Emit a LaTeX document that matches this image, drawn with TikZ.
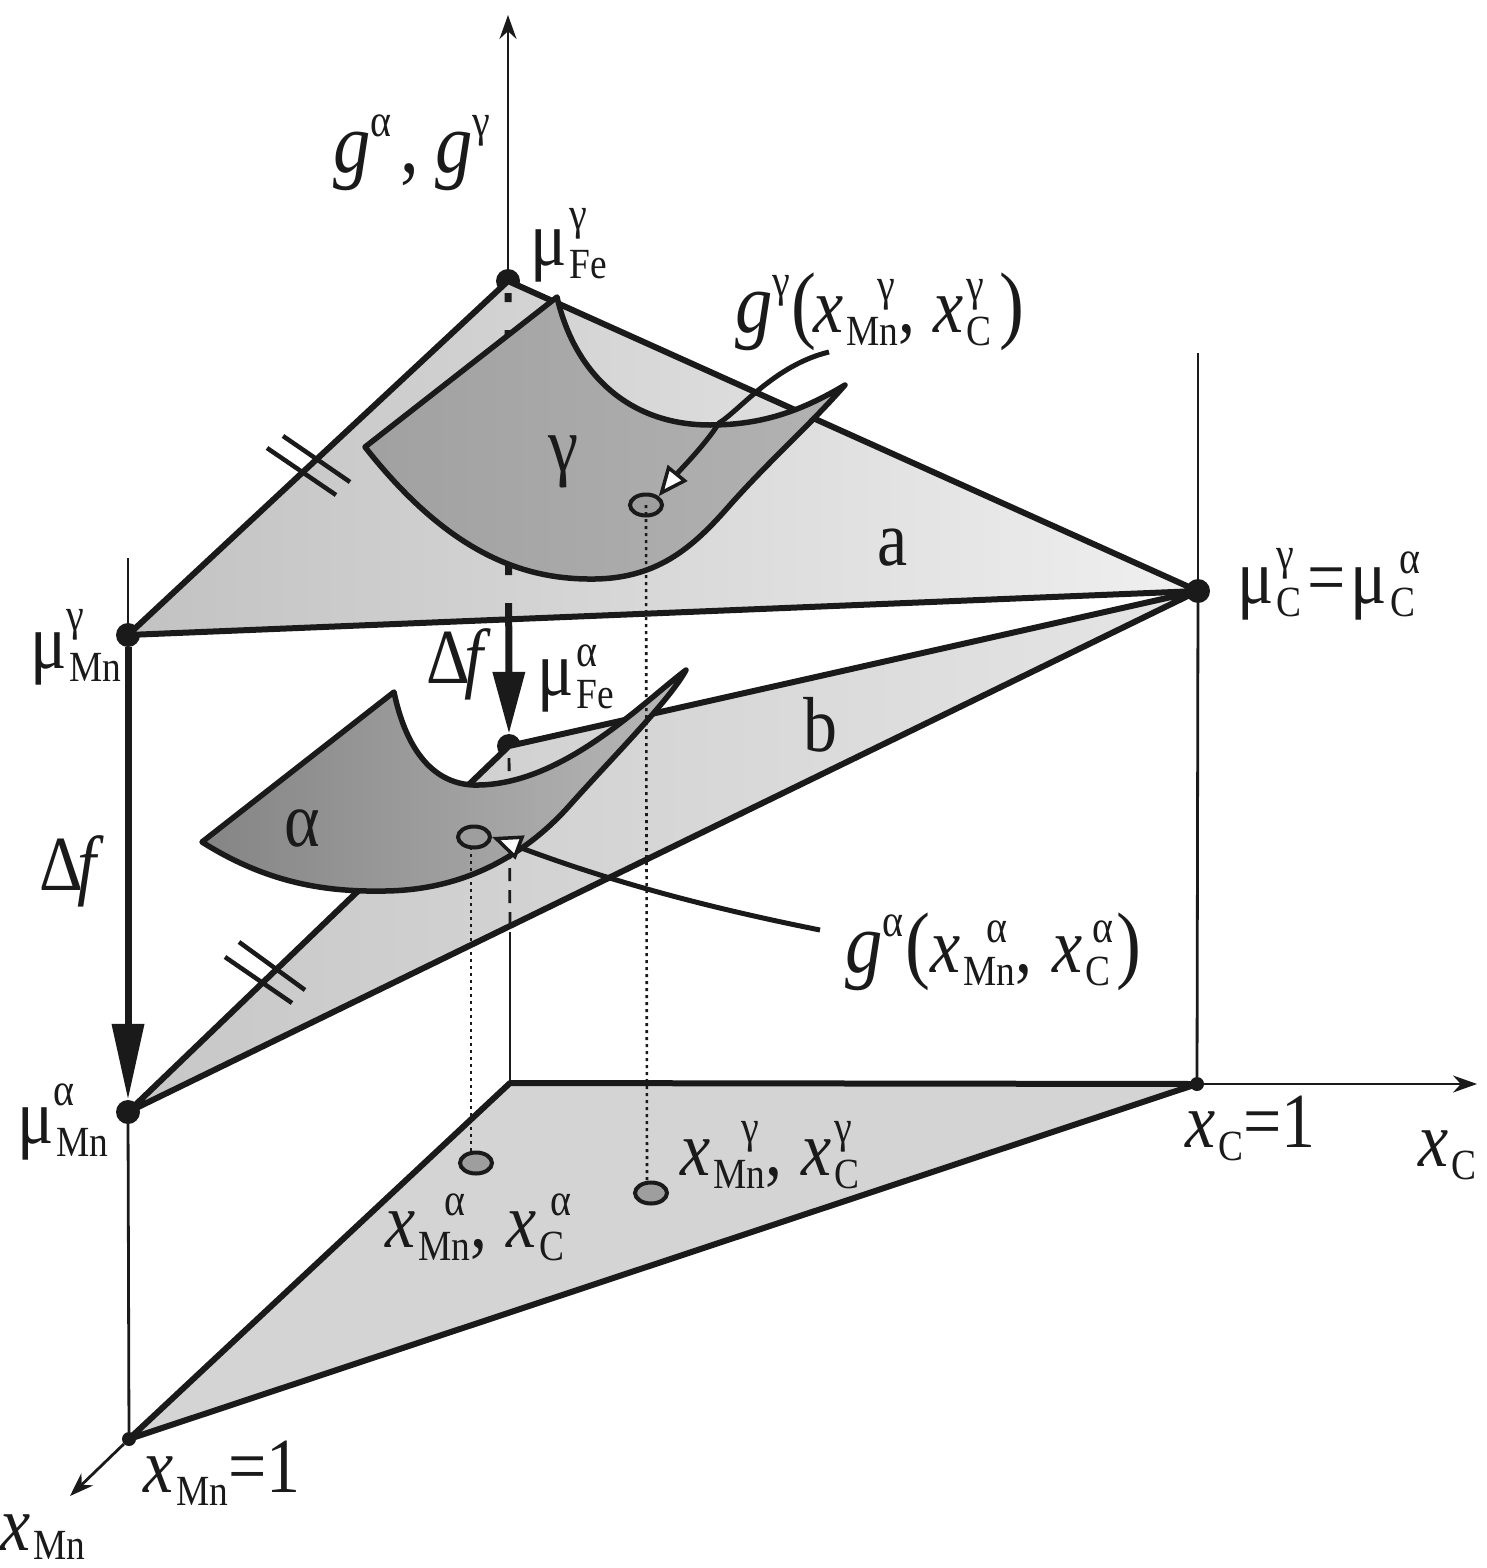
\documentclass[tikz,border=0pt]{standalone}
\usepackage{fontspec}
\setmainfont[FakeStretch=0.87]{Liberation Serif}
\usetikzlibrary{arrows.meta,shapes.geometric}
\newcommand{\fbase}{\fontsize{78}{78}\selectfont}
\newcommand{\fbig}{\fontsize{86}{86}\selectfont}
\newcommand{\fsup}{\fontsize{46}{46}\selectfont}
\newcommand{\fsub}{\fontsize{43}{43}\selectfont}
% sup offset, sup raise, base, sup, sub
\newcommand{\tsc}[5]{{\fbase #3}\rlap{\raisebox{#2}{\fsup\hspace{#1}#4}}\raisebox{-13pt}{\fsub\hspace{3pt}#5}}
\newcommand{\gsup}[1]{{\fbig\itshape g}\raisebox{36pt}{\fsup #1}}
\definecolor{ink}{HTML}{1A1A1A}
\tikzset{
  plane/.style={draw=ink,line width=6pt,line join=round},
  dotA/.style={circle,fill=ink,inner sep=0pt,minimum size=24pt},
  dotB/.style={circle,fill=ink,inner sep=0pt,minimum size=14pt},
  thinaxis/.style={draw=ink,line width=2.8pt},
  surf/.style={draw=ink,line width=5.5pt,line join=round},
  hatchline/.style={draw=ink,line width=4.5pt},
  dottedline/.style={draw=ink,line width=2.6pt,dash pattern=on 3pt off 4pt},
  dashline/.style={draw=ink,line width=2.8pt,dash pattern=on 13pt off 9pt},
  spot/.style={ellipse,draw=ink,line width=4pt,fill=black!38,inner sep=0pt,minimum width=32pt,minimum height=21pt},
  callout/.style={draw=ink,line width=5pt,-{Triangle[fill=white,length=30pt,width=25pt,line width=3.5pt]}},
  txt/.style={anchor=base west,inner sep=0pt,text=ink},
  bigtxt/.style={anchor=center,inner sep=0pt,text=ink,font=\fbase},
  hairarrow/.style={draw=ink,line width=2.8pt,-{Stealth[length=24pt,width=17pt]}},
  fatarrow/.style={draw=ink,line width=7pt,-{Triangle[length=#1,width=31pt]}}
}
\begin{document}
\begin{tikzpicture}[x=1pt,y=-1pt]
\useasboundingbox (0,0) rectangle (1486,1568);
% key points
\node[dotA] (FeG) at (508,281) {};
\node[dotA] (MnG) at (128,635) {};
\node[dotA] (CC) at (1198,591) {};
\node[dotA] (FeA) at (509,746) {};
\node[dotA] (MnA) at (128,1112) {};
\coordinate (O) at (510,1083);
\node[dotB] (C1) at (1197,1084) {};
\node[dotB] (Mn1) at (129,1439) {};
\coordinate (Top) at (508,15);
\coordinate (XCend) at (1477,1084);
\coordinate (XMend) at (70,1496);
\coordinate (CTop) at (1198,353);
\coordinate (MnTop) at (128,558);
\coordinate (bEdge) at (510,932);
\coordinate (AdotTop) at (471,847);
\coordinate (AdotBot) at (471,1153);
\coordinate (GdotBot) at (647,1183);
% floor
\path[fill=black!17] (O) -- (C1.center) -- (Mn1.center) -- cycle;
\draw[plane] (C1.center) -- (O) -- (Mn1.center) -- (C1.center);
% planes
\path[left color=black!24,right color=black!6] (FeG.center) -- (CC.center) -- (MnG.center) -- cycle;
\draw[plane] (FeG.center) -- (CC.center) -- (MnG.center) -- cycle;
\path[left color=black!22,right color=black!10] (FeA.center) -- (CC.center) -- (MnA.center) -- cycle;
\draw[plane] (FeA.center) -- (CC.center) -- (MnA.center) -- cycle;
% axes
\draw[hairarrow] (FeG) -- (Top);
\draw[hairarrow] (C1) -- (XCend);
\draw[hairarrow] (Mn1) -- (XMend);
\draw[thinaxis] (CC) -- (CTop);
\draw[thinaxis] (CC) -- (C1);
\draw[thinaxis] (MnG) -- (MnTop);
\draw[thinaxis] (MnA) -- (Mn1);
\draw[thinaxis] (bEdge) -- (O);
\draw[dashline] (FeA) -- (bEdge);
% delta f arrows
\draw[fatarrow=62pt,dash pattern=on 9pt off 28pt on 20pt off 205pt on 20pt off 28pt on 300pt] (FeG) -- (FeA);
\draw[fatarrow=76pt] (MnG) -- (MnA);
% double hatches
\draw[hatchline] (267,448) -- (336,495);
\draw[hatchline] (283,436) -- (350,482);
\draw[hatchline] (225,957) -- (292,1003);
\draw[hatchline] (239,942) -- (305,990);
% gamma surface
\path[surf,left color=black!37,right color=black!30]
  (557,297) -- (365,447)
  .. controls (450,555) and (525,580) .. (595,579)
  .. controls (660,578) and (695,545) .. (730,505)
  .. controls (770,460) and (810,425) .. (845,385)
  .. controls (800,412) and (760,425) .. (710,425)
  .. controls (630,425) and (575,375) .. (557,297) -- cycle;
% alpha surface
\path[surf,left color=black!48,right color=black!28]
  (394,692) -- (202,842)
  .. controls (270,885) and (330,892) .. (385,891)
  .. controls (470,890) and (530,850) .. (570,805)
  .. controls (610,760) and (670,700) .. (686,670)
  .. controls (640,705) and (560,787) .. (473,785)
  .. controls (430,783) and (405,745) .. (394,692) -- cycle;
% projection lines and spots
\node[spot] (SurfG) at (646,505) {};
\node[spot] (SurfA) at (474,837) {};
\node[spot] (FloorA) at (476,1163) {};
\node[spot] (FloorG) at (651,1193) {};
\draw[dottedline] (SurfG.center) -- (GdotBot);
\draw[dottedline] (AdotTop) -- (AdotBot);
% callouts
\coordinate (LabG) at (829,352);
\coordinate (LabA) at (820,930);
\draw[callout] (LabG) .. controls (775,365) and (740,410) .. (719,423) .. controls (705,445) and (680,470) .. (SurfG.north east);
\draw[callout] (LabA) .. controls (720,910) and (620,885) .. (SurfA.east);
% labels
\node[txt] (gaxis) at (333,172) {\gsup{α}{\fbig\hspace{9pt},\hspace{16pt}}\gsup{γ}};
\node[txt] (lFeG) at (530,265) {\tsc{3pt}{36pt}{μ}{γ}{Fe}};
\node[txt] (lgG) at (735,332) {\gsup{γ}{\fbig\hspace{1pt}(\hspace{-3pt}}\tsc{34pt}{32pt}{\itshape x}{γ}{Mn}{\fbase,\hspace{18pt}}\tsc{3pt}{32pt}{\itshape x}{γ}{C}{\fbig\hspace{8pt})}};
\node[bigtxt] (la) at (893,548) {a};
\node[bigtxt] (lb) at (820,725) {b};
\node[bigtxt] (lgam) at (563,462) {γ};
\node[bigtxt] (lalp) at (302,828) {α};
\node[txt] (lCC) at (1237,603) {\tsc{3pt}{34pt}{μ}{γ}{C}{\fbase\hspace{6pt}=\hspace{5pt}}\tsc{12pt}{30pt}{μ}{α}{C}};
\node[txt] (lMnG) at (30,668) {\tsc{0pt}{38pt}{μ}{γ}{Mn}};
\node[txt] (lFeA) at (537,695) {\tsc{3pt}{29pt}{μ}{α}{Fe}};
\node[txt] (ldf1) at (426,683) {{\fbase Δ\hspace{-5pt}\itshape f}};
\node[txt] (ldf2) at (39,890) {{\fbase Δ\hspace{-5pt}\itshape f}};
\node[txt] (lgA) at (845,972) {\gsup{α}{\fbig\hspace{2pt}(}\tsc{26pt}{30pt}{\itshape x}{α}{Mn}{\fbase,\hspace{20pt}}\tsc{10pt}{30pt}{\itshape x}{α}{C}{\fbig\hspace{6pt})}};
\node[txt] (lMnA) at (17,1143) {\tsc{0pt}{38pt}{μ}{α}{Mn}};
\node[txt] (lxC1) at (1185,1147) {{\fbase\itshape x}\raisebox{-13pt}{\fsub\hspace{3pt}C}{\fbase =1}};
\node[txt] (lxC) at (1418,1166) {{\fbase\itshape x}\raisebox{-13pt}{\fsub\hspace{3pt}C}};
\node[txt] (lFlG) at (680,1175) {\tsc{31pt}{33pt}{\itshape x}{γ}{Mn}{\fbase,\hspace{19pt}}\tsc{3pt}{33pt}{\itshape x}{γ}{C}};
\node[txt] (lFlA) at (385,1247) {\tsc{29pt}{32pt}{\itshape x}{α}{Mn}{\fbase,\hspace{19pt}}\tsc{14pt}{32pt}{\itshape x}{α}{C}};
\node[txt] (lxM1) at (143,1492) {{\fbase\itshape x}\raisebox{-13pt}{\fsub\hspace{3pt}Mn}{\fbase =1}};
\node[txt] (lxM) at (0,1550) {{\fbase\itshape x}\raisebox{-9pt}{\fsub\hspace{3pt}Mn}};
\end{tikzpicture}
\end{document}
